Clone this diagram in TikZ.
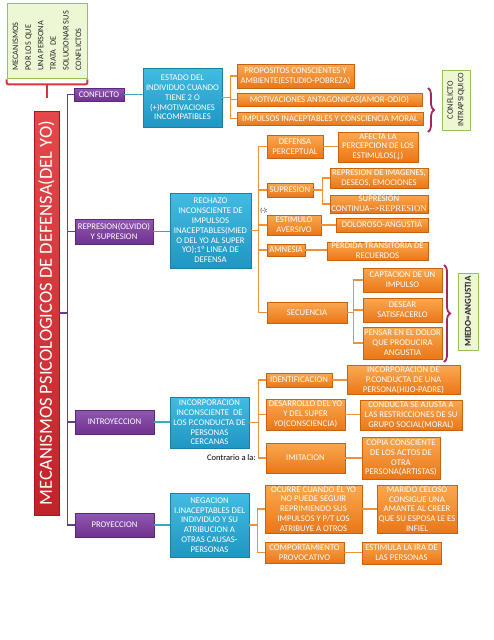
\documentclass[tikz,border=0pt]{standalone}
\usepackage{fontspec}
\setmainfont{Carlito}
\newfontfamily\serifx{Liberation Serif}
\usetikzlibrary{shadows,decorations.pathreplacing}
\definecolor{orT}{HTML}{FAA850}
\definecolor{orB}{HTML}{EA7718}
\definecolor{orD}{HTML}{C9620F}
\definecolor{blT}{HTML}{42BCE2}
\definecolor{blB}{HTML}{2096C2}
\definecolor{blD}{HTML}{1A7FA6}
\definecolor{puT}{HTML}{9058B0}
\definecolor{puB}{HTML}{6E3290}
\definecolor{puD}{HTML}{5A2878}
\definecolor{reT}{HTML}{E5484B}
\definecolor{reB}{HTML}{C0242A}
\definecolor{reD}{HTML}{9E1A1F}
\definecolor{grF}{HTML}{EDF7D3}
\definecolor{grD}{HTML}{92C25A}
\definecolor{trunkc}{HTML}{5F3F8F}
\definecolor{tealc}{HTML}{3FA6BD}
\definecolor{orl}{HTML}{F0913A}
\definecolor{brc}{HTML}{A0285C}
\definecolor{redbr}{HTML}{D9343A}
\newcommand{\mmfs}{\fontsize{8.7}{9.8}\selectfont}
\newcommand{\mmbox}[7]{\node[#1,minimum width={(#5-#3)*1pt},minimum height={(#6-#4)*1pt}] (#2) at ({(#3+#5)/2},{(#4+#6)/2}) {#7};}
\tikzset{
  bx/.style={rectangle, draw, line width=0.8pt, align=center, inner sep=1pt, text=white, font=\mmfs,
    drop shadow={opacity=0.35,shadow xshift=1.2pt,shadow yshift=-1.2pt}},
  ob/.style={bx, draw=orD, top color=orT, bottom color=orB},
  bb/.style={bx, draw=blD, top color=blT, bottom color=blB},
  pb/.style={bx, draw=puD, top color=puT, bottom color=puB},
  rb/.style={bx, draw=reD, top color=reT, bottom color=reB},
  gb/.style={bx, draw=grD, fill=grF, text=black!85},
  trunk/.style={draw=trunkc, line width=1.3pt},
  tl/.style={draw=tealc, line width=1.2pt},
  ol/.style={draw=orl, line width=1.2pt},
  curly/.style={draw=brc, line width=1.8pt, decorate, decoration={brace, amplitude=6pt}},
  lbl/.style={inner sep=0pt, text=black, font=\fontsize{8.5}{9}\selectfont}
}
\begin{document}
\begin{tikzpicture}[x=1pt,y=-1pt]
\fill[white] (0,0) rectangle (494,640);
\useasboundingbox (0,0) rectangle (494,640);

% green boxes
\mmbox{gb}{mecan}{7}{3}{87}{78}{\rotatebox{90}{\parbox{60pt}{\raggedright\fontsize{8.3}{12.6}\selectfont MECANISMOS\\POR LOS QUE\\UNA PERSONA\\TRATA~~DE\\SOLUCIONAR SUS\\CONFLICTOS}}}
\mmbox{gb}{intra}{442}{70}{470}{130}{\rotatebox{90}{\fontsize{8.3}{10.5}\selectfont\begin{tabular}{@{}c@{}}CONFLICTO\\INTRAPSIQUICO\end{tabular}}}
\mmbox{gb}{miedo}{458}{273}{478}{350}{\rotatebox{90}{\fontsize{9}{10}\selectfont\bfseries MIEDO=ANGUSTIA}}

% main red box
\mmbox{rb}{main}{34}{111}{59}{515}{\rotatebox{90}{\fontsize{18.5}{20}\selectfont MECANISMOS PSICOLOGICOS DE DEFENSA(DEL YO)}}

% purple
\mmbox{pb}{conf}{74}{88}{124}{101}{CONFLICTO}
\mmbox{pb}{repr}{75}{219}{153}{244}{REPRESION(OLVIDO)\\Y SUPRESION}
\mmbox{pb}{intro}{75}{410}{154}{434}{INTROYECCION}
\mmbox{pb}{proy}{75}{513}{154}{537}{PROYECCION}

% blue
\mmbox{bb}{estado}{143}{68}{222}{127}{ESTADO DEL\\INDIVIDUO CUANDO\\TIENE 2 O\\(+)MOTIVACIONES\\INCOMPATIBLES}
\mmbox{bb}{rechazo}{170}{193}{251}{268}{RECHAZO\\INCONSCIENTE DE\\IMPULSOS\\INACEPTABLES(MIED\\O DEL YO AL SUPER\\YO);1º LINEA DE\\DEFENSA}
\mmbox{bb}{incorp}{170}{397}{249}{448}{INCORPORACION\\INCONSCIENTE~~DE\\LOS P.CONDUCTA DE\\PERSONAS\\CERCANAS}
\mmbox{bb}{negacion}{170}{493}{249}{557}{NEGACION\\I.INACEPTABLES DEL\\INDIVIDUO Y SU\\ATRIBUCION A\\OTRAS CAUSAS-\\PERSONAS}

% orange: conflicto
\mmbox{ob}{prop}{237}{64}{354}{88}{PROPOSITOS CONSCIENTES Y\\AMBIENTE(ESTUDIO-POBREZA)}
\mmbox{ob}{motiv}{237}{93}{422}{106}{MOTIVACIONES ANTAGONICAS(AMOR-ODIO)}
\mmbox{ob}{impul}{237}{112}{423}{125}{IMPULSOS INACEPTABLES Y CONSCIENCIA MORAL}

% orange: represion
\mmbox{ob}{defensa}{267}{135}{323}{158}{DEFENSA\\PERCEPTUAL}
\mmbox{ob}{supresion}{267}{183}{313}{197}{SUPRESION}
\mmbox{ob}{estimulo}{267}{215}{321}{235}{ESTIMULO\\AVERSIVO}
\mmbox{ob}{amnesia}{267}{244}{305}{256}{AMNESIA}
\mmbox{ob}{secuencia}{267}{302}{347}{323}{SECUENCIA}
\mmbox{ob}{afecta}{338}{132}{418}{162}{AFECTA LA\\PERCEPCION DE LOS\\ESTIMULOS($\downarrow$)}
\mmbox{ob}{repimg}{330}{168}{428}{188}{REPRESION DE IMAGENES,\\DESEOS, EMOCIONES}
\mmbox{ob}{supcont}{330}{195}{428}{213}{SUPRESION\\CONTINUA-{}-{}>{\serifx REPRESION}}
\mmbox{ob}{doloroso}{336}{218}{428}{232}{DOLOROSO-ANGUSTIA}
\mmbox{ob}{perdida}{327}{242}{428}{260}{PERDIDA TRANSITORIA DE\\RECUERDOS}
\mmbox{ob}{capt}{363}{268}{442}{292}{CAPTACION DE UN\\IMPULSO}
\mmbox{ob}{desear}{363}{298}{442}{322}{DESEAR\\SATISFACERLO}
\mmbox{ob}{pensar}{363}{327}{442}{359}{PENSAR EN EL DOLOR\\QUE PRODUCIRA\\ANGUSTIA}

% orange: introyeccion
\mmbox{ob}{ident}{266}{373}{332}{387}{IDENTIFICACION}
\mmbox{ob}{desarr}{266}{399}{345}{430}{DESARROLLO DEL YO\\Y DEL SUPER\\YO(CONSCIENCIA)}
\mmbox{ob}{imit}{266}{443}{345}{473}{IMITACION}
\mmbox{ob}{incorpde}{347}{367}{460}{393}{INCORPORACION DE\\P.CONDUCTA DE UNA\\PERSONA(HIJO-PADRE)}
\mmbox{ob}{conducta}{360}{400}{462}{430}{CONDUCTA SE AJUSTA A\\LAS RESTRICCIONES DE SU\\GRUPO SOCIAL(MORAL)}
\mmbox{ob}{copia}{362}{437}{440}{479}{COPIA CONSCIENTE\\DE LOS ACTOS DE\\OTRA\\PERSONA(ARTISTAS)}

% orange: proyeccion
\mmbox{ob}{ocurre}{265}{485}{362}{533}{OCURRE CUANDO EL YO\\NO PUEDE SEGUIR\\REPRIMIENDO SUS\\IMPULSOS Y P/T LOS\\ATRIBUYE A OTROS}
\mmbox{ob}{comport}{265}{542}{344}{563}{COMPORTAMIENTO\\PROVOCATIVO}
\mmbox{ob}{marido}{377}{485}{457}{533}{MARIDO CELOSO\\CONSIGUE UNA\\AMANTE AL CREER\\QUE SU ESPOSA LE ES\\INFIEL}
\mmbox{ob}{estimula}{362}{542}{441}{564}{ESTIMULA LA IRA DE\\LAS PERSONAS}

% free labels
\node[lbl, anchor=east] (contr) at (256,458) {Contrario a la:};
\node[lbl, font=\fontsize{6}{7}\selectfont] (menos) at (264,211) {(-):};

% trunk
\draw[trunk] (main.east) -- ++(8,0) coordinate (tk);
\foreach \pp in {conf,repr,intro,proy} \draw[trunk] (\pp.west) -| (tk);

% purple -> blue
\draw[tl] (conf.east) -- (conf.east -| estado.west);
\draw[tl] (repr.east) -- (repr.east -| rechazo.west);
\draw[tl] (intro.east) -- (intro.east -| incorp.west);
\draw[tl] (proy.east) -- (proy.east -| negacion.west);

% blue -> orange
\foreach \cc in {prop,motiv,impul} \draw[ol] (estado.east) -- ++(8,0) |- (\cc.west);
\foreach \cc in {defensa,supresion,estimulo,amnesia,secuencia} \draw[ol] (rechazo.east) -- ++(7,0) |- (\cc.west);
\foreach \cc in {repimg,supcont} \draw[ol] (supresion.east) -- ++(9,0) |- (\cc.west);
\foreach \cc in {capt,desear,pensar} \draw[ol] (secuencia.east) -- ++(6,0) |- (\cc.west);
\foreach \cc in {ident,desarr,imit} \draw[ol] (incorp.east) -- ++(9,0) |- (\cc.west);
\foreach \cc in {ocurre,comport} \draw[ol] (negacion.east) -- ++(8,0) |- (\cc.west);
\draw[ol] (defensa.east) -- (defensa.east -| afecta.west);
\draw[ol] (estimulo.east) -- (estimulo.east -| doloroso.west);
\draw[ol] (amnesia.east) -- (amnesia.east -| perdida.west);
\draw[ol] (ident.east) -- (ident.east -| incorpde.west);
\draw[ol] (desarr.east) -- (desarr.east -| conducta.west);
\draw[ol] (imit.east) -- (imit.east -| copia.west);
\draw[ol] (ocurre.east) -- (ocurre.east -| marido.west);
\draw[ol] (comport.east) -- (comport.east -| estimula.west);

% braces
\draw[draw=redbr, line width=2pt, rounded corners=2pt] ([yshift=-1pt]mecan.south west) -- ++(0,5) -- ([yshift=-6pt]mecan.south east) -- ([yshift=-1pt]mecan.south east);
\draw[draw=redbr, line width=2pt] ([yshift=-6pt]mecan.south) -- ++(0,14);
\coordinate (b1t) at (428,88);
\coordinate (b1b) at (428,132);
\draw[curly] (b1t) -- (b1b);
\coordinate (b2t) at (444,265);
\coordinate (b2b) at (444,362);
\draw[curly] (b2t) -- (b2b);
\end{tikzpicture}
\end{document}
